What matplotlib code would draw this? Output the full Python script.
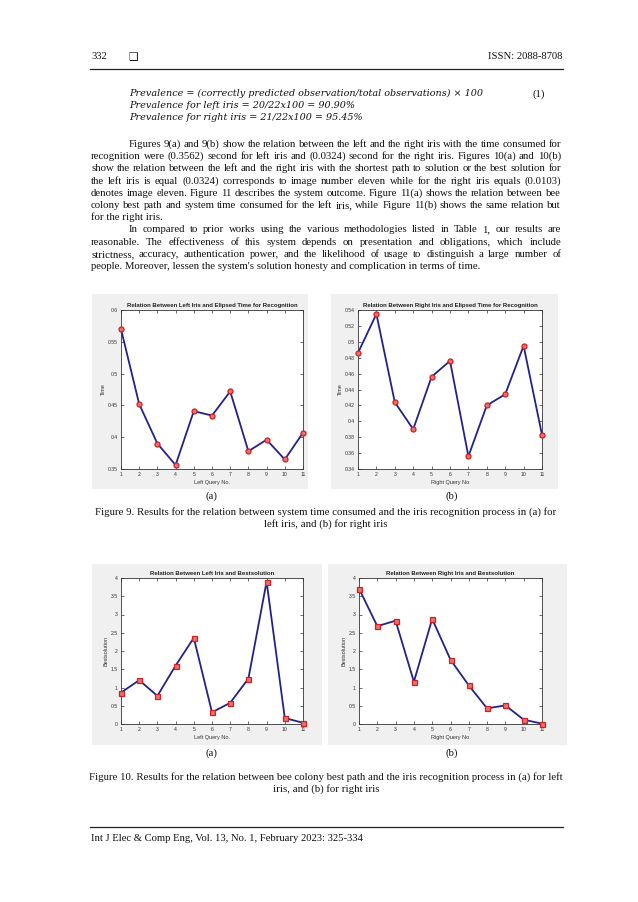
import matplotlib
matplotlib.use('Agg')
import matplotlib.pyplot as plt
from matplotlib.patches import Rectangle
from matplotlib.lines import Line2D
from matplotlib.font_manager import FontProperties
from matplotlib.ticker import FuncFormatter

# ---------------- data ----------------
queries = list(range(1, 12))
left_time = [0.570, 0.452, 0.390, 0.3562, 0.441, 0.434, 0.472, 0.378, 0.396, 0.365, 0.407]
right_time = [0.486, 0.535, 0.424, 0.390, 0.456, 0.476, 0.356, 0.420, 0.434, 0.495, 0.383]
left_best = [0.86, 1.20, 0.77, 1.60, 2.36, 0.32, 0.58, 1.245, 3.90, 0.164, 0.0324]
right_best = [3.71, 2.68, 2.83, 1.157, 2.88, 1.76, 1.057, 0.428, 0.51, 0.118, 0.0103]

time_left_ticks = [0.35, 0.4, 0.45, 0.5, 0.55, 0.6]
time_right_ticks = [0.34, 0.36, 0.38, 0.4, 0.42, 0.44, 0.46, 0.48, 0.5, 0.52, 0.54]
best_ticks = [0, 0.5, 1, 1.5, 2, 2.5, 3, 3.5, 4]

titles = ["Relation Between Left Iris and Elipsed Time for Recognition",
          "Relation Between Right Iris and Elipsed Time for Recognition",
          "Relation Between Left Iris and Bestsolution",
          "Relation Between Right Iris and Bestsolution"]
xlabels = ["Left Query No.", "Right Query No", "Left Query No.", "Right Query No"]
ylabels = ["Time", "Time", "Bestsolution", "Bestsolution"]

eq_lines = ["Prevalence = (correctly predicted observation/total observations) \u00d7 100",
            "Prevalence for left iris = 20/22x100 = 90.90%",
            "Prevalence for right iris = 21/22x100 = 95.45%"]

para1 = ["Figures 9(a) and 9(b) show the relation between the left and the right iris with the time consumed for",
         "recognition were (0.3562) second for left iris and (0.0324) second for the right iris. Figures 10(a) and 10(b)",
         "show the relation between the left and the right iris with the shortest path to solution or the best solution for",
         "the left iris is equal (0.0324) corresponds to image number eleven while for the right iris equals (0.0103)",
         "denotes image eleven. Figure 11 describes the system outcome. Figure 11(a) shows the relation between bee",
         "colony best path and system time consumed for the left iris, while Figure 11(b) shows the same relation but",
         "for the right iris."]
para2 = ["In compared to prior works using the various methodologies listed in Table 1, our results are",
         "reasonable. The effectiveness of this system depends on presentation and obligations, which include",
         "strictness, accuracy, authentication power, and the likelihood of usage to distinguish a large number of",
         "people. Moreover, lessen the system's solution honesty and complication in terms of time."]

cap9 = ["Figure 9. Results for the relation between system time consumed and the iris recognition process in (a) for",
        "left iris, and (b) for right iris"]
cap10 = ["Figure 10. Results for the relation between bee colony best path and the iris recognition process in (a) for left",
         "iris, and (b) for right iris"]

# ---------------- page setup ----------------
W, H, DPI = 638, 902, 100
plt.rcParams['font.family'] = ['Liberation Sans', 'DejaVu Sans']
fig = plt.figure(figsize=(W / DPI, H / DPI), dpi=DPI)
fig.patch.set_facecolor('white')
renderer = fig.canvas.get_renderer()

SERIF = 'Liberation Serif'
BODY = 7.77
SMALL = 7.7


def fx(x):
    return x / W


def fy(y):
    return 1 - y / H


def tw(s, fp):
    w, h, d = renderer.get_text_width_height_descent(s, fp, ismath=False)
    return w


def put(x, yc, s, size=BODY, ha='left', family=SERIF, style='normal'):
    fig.text(fx(x), fy(yc + size * 0.45), s, fontsize=size, ha=ha, va='baseline',
             family=family, style=style, color='#111111')


def justify(yc, line, x0, x1, size=BODY, last=False):
    fp = FontProperties(family=SERIF, size=size)
    words = line.split(' ')
    if last:
        put(x0, yc, line, size)
        return
    widths = [tw(w, fp) for w in words]
    gap = (x1 - x0 - sum(widths)) / (len(words) - 1)
    x = x0
    for w, wd in zip(words, widths):
        put(x, yc, w, size)
        x += wd + gap


def hrule(y, x0, x1, lw=0.9):
    fig.add_artist(Line2D([fx(x0), fx(x1)], [fy(y), fy(y)], transform=fig.transFigure,
                          color='#222222', lw=lw))


# header
put(91, 56, "332", SMALL)
put(128, 56, "\u2751", SMALL, family='DejaVu Sans')
put(562, 56, "ISSN: 2088-8708", SMALL, ha='right')
hrule(69, 90, 563)

# equations (fit first line width)
fp_eq = FontProperties(family='DejaVu Serif', style='italic', size=10)
eq_size = 10 * 356 / tw(eq_lines[0], fp_eq)
for i, line in enumerate(eq_lines):
    put(129, 93 + 12 * i, line, eq_size, family='DejaVu Serif', style='italic')
put(545, 93, "(1)", BODY, ha='right')

# paragraphs
LX0, LX1 = 91, 561
for i, line in enumerate(para1):
    justify(143.3 + 12.24 * i, line, 129 if i == 0 else LX0, LX1, last=(i == len(para1) - 1))
for j, line in enumerate(para2):
    i = j + len(para1)
    justify(143.3 + 12.24 * i, line, 129 if j == 0 else LX0, LX1, last=(j == len(para2) - 1))

# ---------------- charts ----------------


def panel(x0, y0, x1, y1):
    fig.add_artist(Rectangle((fx(x0), fy(y1)), fx(x1) - fx(x0), fy(y0) - fy(y1),
                             transform=fig.transFigure, facecolor='#f0f0f0',
                             edgecolor='none', zorder=-5))


def chart(box, pbox, yv, marker, title, xlabel, ylabel, ylim, yticks):
    panel(*pbox)
    x0, y0, x1, y1 = box
    ax = fig.add_axes([fx(x0), fy(y1), fx(x1) - fx(x0), fy(y0) - fy(y1)])
    ax.plot(queries, yv, color='#22228a', lw=1.3, marker=marker, ms=3.6,
            mfc='#e57373', mec='#d21f1f', mew=0.9, clip_on=False, zorder=3)
    ax.set_xlim(1, 11)
    ax.set_ylim(*ylim)
    ax.set_xticks(queries)
    ax.set_yticks(yticks)
    ax.yaxis.set_major_formatter(FuncFormatter(lambda v, p: f'{v:g}'))
    ax.tick_params(direction='in', top=True, right=True, length=2, width=0.5,
                   labelsize=3.7, colors='#333333', pad=2.5)
    for s in ax.spines.values():
        s.set_linewidth(0.6)
        s.set_color('#333333')
    ax.set_title(title, fontsize=4.3, fontweight='bold', pad=2.5, color='#222222')
    ax.set_xlabel(xlabel, fontsize=4.0, labelpad=1.5, color='#333333')
    ax.set_ylabel(ylabel, fontsize=4.0, labelpad=1.5, color='#333333')
    return ax


chart((121, 310, 303, 469), (92, 294, 308, 489), left_time, 'o', titles[0], xlabels[0],
      ylabels[0], (0.35, 0.6), time_left_ticks)
chart((358, 310, 542, 469), (331, 294, 558, 489), right_time, 'o', titles[1], xlabels[1],
      ylabels[1], (0.34, 0.54), time_right_ticks)
chart((121, 578, 303, 724), (92, 564, 322, 745), left_best, 's', titles[2], xlabels[2],
      ylabels[2], (0, 4), best_ticks)
chart((359, 578, 542, 724), (328, 564, 567, 745), right_best, 's', titles[3], xlabels[3],
      ylabels[3], (0, 4), best_ticks)

# sub-labels and captions
put(205, 495, "(a)")
put(445, 495, "(b)")
put(326, 511, cap9[0], ha='center')
put(326, 523.5, cap9[1], ha='center')
put(205, 752, "(a)")
put(445, 752, "(b)")
put(326, 776, cap10[0], ha='center')
put(326, 788.5, cap10[1], ha='center')

# footer
hrule(827, 90, 563)
put(91, 838, "Int J Elec & Comp Eng, Vol. 13, No. 1, February 2023: 325-334", SMALL)

fig.savefig('out.png', dpi=DPI)
